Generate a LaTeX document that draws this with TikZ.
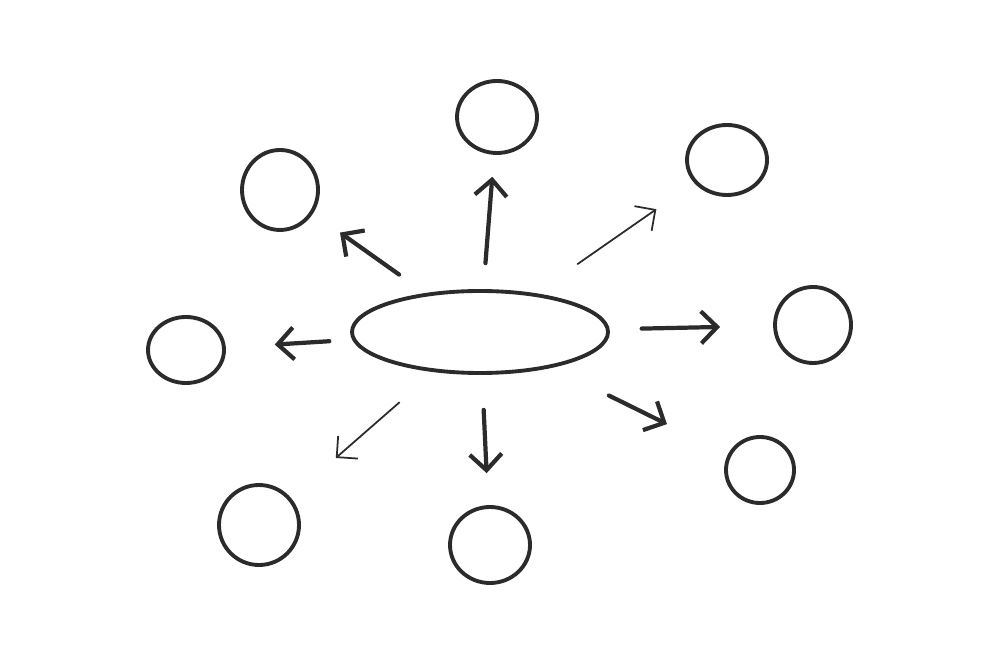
\documentclass[tikz,border=0pt]{standalone}
\usetikzlibrary{shapes.geometric,arrows.meta}
\definecolor{pen}{HTML}{2B2B2B}
\begin{document}
\begin{tikzpicture}[bubble/.style={draw=pen, ellipse, line width=1.1pt, inner sep=0pt}, fat/.style={draw=pen, line width=1.2pt, line cap=round, -{Straight Barb[length=1.6mm, width=3.2mm]}}, thin/.style={draw=pen, line width=0.5pt, line cap=round, -{Straight Barb[length=1.5mm, width=3mm]}}]
	\useasboundingbox (0,0) rectangle (10,6.67);
	\node[bubble, minimum width=2.56cm, minimum height=0.82cm] (M) at (4.80,3.35) {};
	\node[bubble, minimum width=0.80cm, minimum height=0.72cm] (N) at (4.97,5.50) {};
	\node[bubble, minimum width=0.76cm, minimum height=0.80cm] (NW) at (2.80,4.77) {};
	\node[bubble, minimum width=0.80cm, minimum height=0.70cm] (NE) at (7.27,5.07) {};
	\node[bubble, minimum width=0.76cm, minimum height=0.66cm] (W) at (1.86,3.17) {};
	\node[bubble, minimum width=0.76cm, minimum height=0.76cm] (E) at (8.13,3.42) {};
	\node[bubble, minimum width=0.68cm, minimum height=0.66cm] (SE) at (7.60,1.97) {};
	\node[bubble, minimum width=0.80cm, minimum height=0.76cm] (S) at (4.90,1.22) {};
	\node[bubble, minimum width=0.80cm, minimum height=0.80cm] (SW) at (2.59,1.42) {};
	\draw[fat, shorten <=0.26cm, shorten >=0.22cm] (M) -- (N);
	\draw[fat, shorten <=0.32cm, shorten >=0.33cm] (M) -- (NW);
	\draw[thin, shorten <=0.51cm, shorten >=0.46cm] (M) -- (NE);
	\draw[fat, shorten <=0.23cm, shorten >=0.49cm] (M) -- (W);
	\draw[fat, shorten <=0.32cm, shorten >=0.53cm] (M) -- (E);
	\draw[fat, shorten <=0.63cm, shorten >=0.68cm] (M) -- (SE);
	\draw[fat, shorten <=0.35cm, shorten >=0.32cm] (M) -- (S);
	\draw[thin, shorten <=0.46cm, shorten >=0.60cm] (M) -- (SW);
\end{tikzpicture}
\end{document}
